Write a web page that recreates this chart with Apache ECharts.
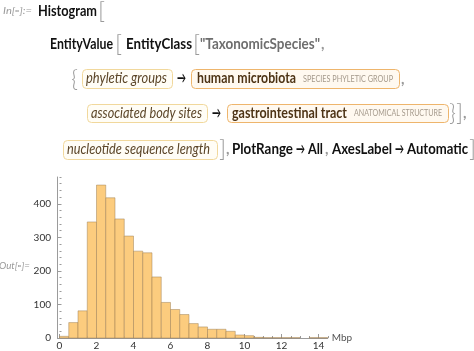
<!DOCTYPE html>
<html><head><meta charset="utf-8">
<style>html,body{margin:0;padding:0;background:#fff;overflow:hidden}#c{width:474px;height:351px}</style>
<script src="https://cdn.jsdelivr.net/npm/echarts@6/dist/echarts.min.js"></script>
</head><body><div id="c"></div>
<script>
// ---- data ----
const binEdges = [0,0.5,1,1.5,2,2.5,3,3.5,4,4.5,5,5.5,6,6.5,7,7.5,8,8.5,9,9.5,10,10.5,11,11.5,12,12.5,13,13.5,14,14.5];
const counts   = [5,46,81,346,456,418,355,304,259,254,182,106,85,70,43,33,26,26,20,9,7,2,1,1,1,1,0,1,1];
const xTicks = [0,2,4,6,8,10,12,14];
const yTicks = [0,100,200,300,400];
const xAxisName = 'Mbp';
const inLabel = 'In[▫]:=';
const outLabel = 'Out[▫]=';

const FONT = 'Lato, "Open Sans", "Noto Sans", sans-serif';
const mctx = document.createElement('canvas').getContext('2d');
function fit(text, font, x0, x1, y, fill) {
  mctx.font = font;
  const w = mctx.measureText(text).width || 1;
  return {type:'text', x:x0, y:y, scaleX:(x1 - x0) / w, silent:true,
    style:{text:text, font:font, fill:fill, textAlign:'left', textVerticalAlign:'middle', align:'left', verticalAlign:'middle'}};
}
function plain(text, font, x, y, fill) {
  return {type:'text', x:x, y:y, silent:true,
    style:{text:text, font:font, fill:fill, textAlign:'left', textVerticalAlign:'middle', align:'left', verticalAlign:'middle'}};
}
function box(x0, x1, y0, y1, fill, stroke) {
  return {type:'rect', silent:true, shape:{x:x0 + 0.5, y:y0 + 0.5, width:x1 - x0, height:y1 - y0, r:4},
    style:{fill:fill, stroke:stroke, lineWidth:1}};
}
const B = 'bold 15px ' + FONT;
const IT = 'italic 15px ' + FONT;
const SC = '9px ' + FONT;
const BR = '300 24px ' + FONT;
const BLACK = '#111';
const GRAY = '#9a9a9a';
const PROP = '#5b4528';
const ENT = '#4d3315';
const SCC = '#a59a8c';
const PFILL = '#fffdf6', PSTROKE = '#f1d89c';
const EFILL = '#fff9f0', ESTROKE = '#eeb56c';

const g = [];
// line 1
g.push(fit(inLabel, 'italic 9px ' + FONT, 3, 32, 11, GRAY));
g.push(fit('Histogram', B, 38, 97, 11, BLACK));
g.push(plain('[', BR, 98, 11, GRAY));
// line 2
g.push(fit('EntityValue', B, 50, 113, 44, BLACK));
g.push(plain('[', BR, 115, 44, GRAY));
g.push(fit('EntityClass', B, 126, 192, 44, BLACK));
g.push(plain('[', BR, 193, 44, GRAY));
g.push(fit('"TaxonomicSpecies"', B, 200, 320, 44, '#6e6e6e'));
g.push(plain(',', B, 321, 44, GRAY));
// line 3
g.push(plain('{', BR, 71, 79, GRAY));
g.push(box(82, 172, 69, 88, PFILL, PSTROKE));
g.push(fit('phyletic groups', IT, 86, 167, 78.5, PROP));
g.push(fit('→', B, 177, 186, 78.5, BLACK));
g.push(box(191, 399, 69, 88, EFILL, ESTROKE));
g.push(fit('human microbiota', B, 197, 296, 78.5, ENT));
g.push(fit('SPECIES PHYLETIC GROUP', SC, 303, 393, 79, SCC));
g.push(plain(',', B, 401, 79, GRAY));
// line 4
g.push(box(87, 207, 104, 122, PFILL, PSTROKE));
g.push(fit('associated body sites', IT, 91, 202, 113, PROP));
g.push(fit('→', B, 212, 221, 113, BLACK));
g.push(box(227, 448, 104, 122, EFILL, ESTROKE));
g.push(fit('gastrointestinal tract', B, 232, 347, 113, ENT));
g.push(fit('ANATOMICAL STRUCTURE', SC, 354, 442, 113.5, SCC));
g.push(plain('}', BR, 449, 113, GRAY));
g.push(plain(']', BR, 456, 113, GRAY));
g.push(plain(',', B, 463, 113, GRAY));
// line 5
g.push(box(63, 217, 140, 159, PFILL, PSTROKE));
g.push(fit('nucleotide sequence length', IT, 67, 210, 149.5, PROP));
g.push(plain(']', BR, 219, 149, GRAY));
g.push(plain(',', B, 226, 149, GRAY));
g.push(fit('PlotRange', B, 232, 293, 149, BLACK));
g.push(fit('→', B, 296, 305, 149, BLACK));
g.push(fit('All', B, 308, 323, 149, BLACK));
g.push(plain(',', B, 325, 149, GRAY));
g.push(fit('AxesLabel', B, 332, 392, 149, BLACK));
g.push(fit('→', B, 395, 404, 149, BLACK));
g.push(fit('Automatic', B, 407, 468, 149, BLACK));
g.push(plain(']', BR, 469, 149, GRAY));
// output label
g.push(fit(outLabel, 'italic 9px ' + FONT, -1, 30, 266, GRAY));

const chart = echarts.init(document.getElementById('c'), null, {renderer:'canvas'});
const AX = '#9b9b9b';
chart.setOption({
  animation:false,
  grid:{left:59.5, right:146.25, top:177, bottom:12, containLabel:false},
  xAxis:[{
    type:'value', min:0, max:14.5, interval:2, position:'bottom',
    axisLine:{show:true, onZero:false, lineStyle:{color:AX, width:1}},
    axisTick:{show:true, inside:true, length:4, lineStyle:{color:AX}, customValues:xTicks},
    axisLabel:{color:'#333', fontSize:10, fontFamily:FONT, margin:3, customValues:xTicks},
    splitLine:{show:false},
    name:xAxisName, nameLocation:'end', nameGap:4,
    nameTextStyle:{color:'#555', fontSize:10, fontFamily:FONT, verticalAlign:'middle', align:'left'}
  },{
    type:'value', min:0, max:14.5, interval:0.5, position:'bottom', offset:0,
    axisLine:{show:false}, axisTick:{show:true, inside:true, length:2, lineStyle:{color:AX}},
    axisLabel:{show:false}, splitLine:{show:false}
  }],
  yAxis:[{
    type:'value', min:0, max:480, interval:100, offset:2.5, position:'left',
    axisLine:{show:true, onZero:false, lineStyle:{color:AX, width:1}},
    axisTick:{show:true, inside:true, length:4, lineStyle:{color:AX}, customValues:yTicks},
    axisLabel:{color:'#333', fontSize:10, fontFamily:FONT, margin:6, customValues:yTicks},
    splitLine:{show:false}
  },{
    type:'value', min:0, max:480, interval:20, offset:2.5, position:'left',
    axisLine:{show:false}, axisTick:{show:true, inside:true, length:2, lineStyle:{color:AX}},
    axisLabel:{show:false}, splitLine:{show:false}
  }],
  series:[{
    type:'custom', xAxisIndex:0, yAxisIndex:0, clip:false,
    data: counts.map((c, i) => [binEdges[i], binEdges[i + 1], c]),
    encode:{x:[0,1], y:2},
    renderItem:function(params, api){
      const p0 = api.coord([api.value(0), api.value(2)]);
      const p1 = api.coord([api.value(1), 0]);
      if (api.value(2) <= 0) return null;
      return {type:'rect', shape:{x:p0[0], y:p0[1], width:p1[0] - p0[0], height:p1[1] - p0[1]},
        style:{fill:'#fccc7e', stroke:'rgba(150,120,80,0.65)', lineWidth:0.7}};
    }
  }],
  graphic:{elements:g}
});
</script>
</body></html>
